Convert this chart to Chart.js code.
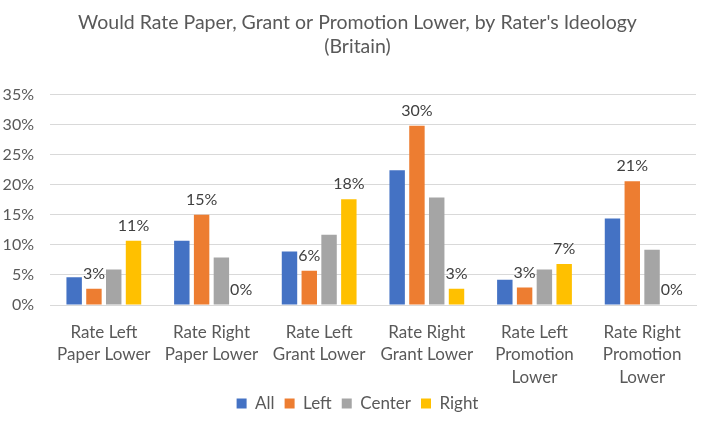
<!DOCTYPE html>
<html>
<head>
<meta charset="utf-8">
<script src="https://cdn.jsdelivr.net/npm/chart.js@4"></script>
<style>
  html, body { margin: 0; padding: 0; background: #fff; }
  #wrap { width: 715px; height: 428px; }
</style>
</head>
<body>
<div id="wrap"><canvas id="chart"></canvas></div>
<script>
const categories = [
  ['Rate Left', 'Paper Lower'],
  ['Rate Right', 'Paper Lower'],
  ['Rate Left', 'Grant Lower'],
  ['Rate Right', 'Grant Lower'],
  ['Rate Left', 'Promotion', 'Lower'],
  ['Rate Right', 'Promotion', 'Lower'],
];
const allValues    = [4.6, 10.7, 8.9, 22.4, 4.2, 14.4];
const leftValues   = [2.7, 15.0, 5.7, 29.8, 2.9, 20.6];
const centerValues = [5.9, 7.9, 11.7, 17.9, 5.9, 9.2];
const rightValues  = [10.7, 0, 17.6, 2.7, 6.8, 0];
const yTicks = [0, 5, 10, 15, 20, 25, 30, 35];

const FONT = "Lato, 'Open Sans', sans-serif";
const TEXT = '#595959';

// value labels above the Left and Right bars only
const barLabels = {
  id: 'barLabels',
  afterDatasetsDraw(chart) {
    const { ctx } = chart;
    ctx.save();
    ctx.font = `16px ${FONT}`;
    ctx.fillStyle = '#404040';
    ctx.textAlign = 'center';
    ctx.textBaseline = 'bottom';
    chart.data.datasets.forEach((ds, i) => {
      if (!ds.showLabels) return;
      chart.getDatasetMeta(i).data.forEach((bar, j) => {
        ctx.fillText(Math.round(ds.data[j]) + '%', bar.x, bar.y - 7);
      });
    });
    ctx.restore();
  },
};

new Chart(document.getElementById('chart').getContext('2d'), {
  type: 'bar',
  plugins: [barLabels],
  data: {
    labels: categories,
    datasets: [
      { label: 'All',    data: allValues,    backgroundColor: '#4472C4' },
      { label: 'Left',   data: leftValues,   backgroundColor: '#ED7D31', showLabels: true },
      { label: 'Center', data: centerValues, backgroundColor: '#A5A5A5' },
      { label: 'Right',  data: rightValues,  backgroundColor: '#FFC000', showLabels: true },
    ],
  },
  options: {
    responsive: true,
    maintainAspectRatio: false,
    animation: false,
    categoryPercentage: 0.735,
    barPercentage: 0.78,
    layout: { padding: { left: 0, right: 0, top: 0, bottom: 6 } },
    plugins: {
      title: {
        display: true,
        text: ["Would Rate Paper, Grant or Promotion Lower, by Rater's Ideology", '(Britain)'],
        color: TEXT,
        font: { family: FONT, size: 19.5, weight: 'normal', lineHeight: 1.22 },
        padding: { top: 11, bottom: 36 },
      },
      legend: {
        position: 'bottom',
        labels: {
          color: TEXT,
          font: { family: FONT, size: 17 },
          boxWidth: 10,
          boxHeight: 10,
          padding: 10,
        },
      },
      tooltip: { enabled: false },
    },
    scales: {
      x: {
        grid: { display: false },
        border: { display: true, color: '#d9d9d9' },
        afterFit: axis => { axis.height = 80; },
        ticks: {
          color: TEXT,
          font: { family: FONT, size: 17, lineHeight: 1.32 },
          maxRotation: 0,
          autoSkip: false,
          padding: 8,
        },
      },
      y: {
        min: 0,
        max: 35,
        afterBuildTicks: axis => { axis.ticks = yTicks.map(v => ({ value: v })); },
        afterFit: axis => { axis.width = 50; },
        grid: { color: '#d9d9d9', drawTicks: false },
        border: { display: false },
        ticks: {
          color: TEXT,
          font: { family: FONT, size: 16 },
          padding: 16,
          callback: v => v + '%',
        },
      },
      // empty right-hand axis that only reserves the margin
      yRight: {
        position: 'right',
        afterFit: axis => { axis.width = 19; },
        grid: { display: false },
        border: { display: false },
        ticks: { display: false },
      },
    },
  },
});
</script>
</body>
</html>
